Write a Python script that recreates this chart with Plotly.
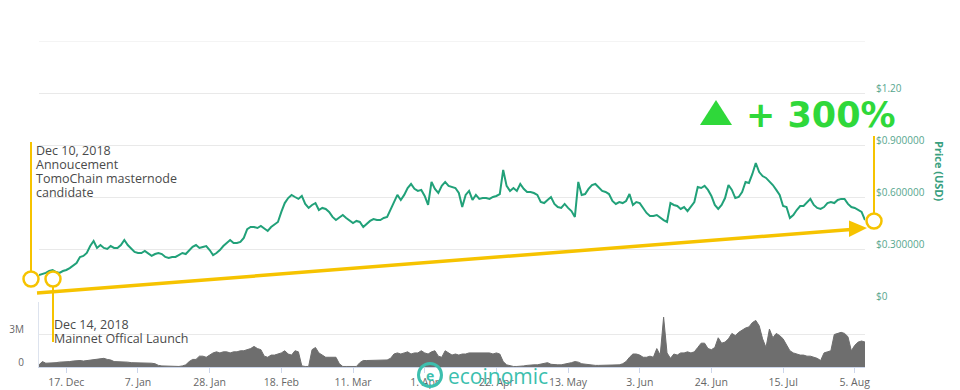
import plotly.graph_objects as go
import pandas as pd

# ---------------- data ----------------
start_date = "2018-12-09"

price_usd = [
    0.150, 0.156, 0.162, 0.173, 0.179, 0.167, 0.162, 0.173, 0.179, 0.190,
    0.202, 0.219, 0.254, 0.260, 0.277, 0.317, 0.346, 0.306, 0.323, 0.306,
    0.300, 0.317, 0.306, 0.306, 0.323, 0.352, 0.323, 0.300, 0.283, 0.277,
    0.277, 0.289, 0.277, 0.260, 0.271, 0.277, 0.271, 0.254, 0.248, 0.254,
    0.254, 0.265, 0.277, 0.271, 0.289, 0.312, 0.323, 0.306, 0.312, 0.317,
    0.294, 0.265, 0.277, 0.294, 0.317, 0.335, 0.352, 0.335, 0.335, 0.341,
    0.364, 0.415, 0.427, 0.427, 0.421, 0.433, 0.421, 0.404, 0.427, 0.439,
    0.456, 0.514, 0.565, 0.594, 0.612, 0.600, 0.589, 0.606, 0.560, 0.537,
    0.554, 0.565, 0.525, 0.537, 0.531, 0.514, 0.485, 0.467, 0.479, 0.496,
    0.479, 0.462, 0.450, 0.462, 0.456, 0.427, 0.444, 0.462, 0.473, 0.467,
    0.467, 0.479, 0.485, 0.525, 0.565, 0.612, 0.583, 0.612, 0.652, 0.675,
    0.647, 0.635, 0.641, 0.606, 0.554, 0.687, 0.647, 0.623, 0.664, 0.687,
    0.664, 0.658, 0.652, 0.623, 0.542, 0.612, 0.635, 0.583, 0.612, 0.589,
    0.594, 0.594, 0.589, 0.600, 0.606, 0.617, 0.756, 0.664, 0.635, 0.652,
    0.635, 0.675, 0.647, 0.629, 0.629, 0.623, 0.612, 0.571, 0.565, 0.583,
    0.600, 0.560, 0.542, 0.537, 0.560, 0.537, 0.519, 0.485, 0.687, 0.612,
    0.617, 0.647, 0.669, 0.675, 0.652, 0.635, 0.629, 0.617, 0.577, 0.560,
    0.571, 0.565, 0.577, 0.617, 0.554, 0.571, 0.565, 0.537, 0.508, 0.491,
    0.491, 0.496, 0.479, 0.467, 0.456, 0.565, 0.554, 0.548, 0.531, 0.542,
    0.519, 0.542, 0.571, 0.658, 0.652, 0.664, 0.641, 0.606, 0.554, 0.531,
    0.554, 0.594, 0.669, 0.641, 0.594, 0.600, 0.629, 0.687, 0.681, 0.733,
    0.796, 0.744, 0.721, 0.710, 0.692, 0.669, 0.641, 0.612, 0.548, 0.542,
    0.479, 0.496, 0.525, 0.548, 0.548, 0.571, 0.589, 0.554, 0.537, 0.531,
    0.542, 0.565, 0.571, 0.565, 0.583, 0.589, 0.589, 0.560, 0.542, 0.537,
    0.525, 0.514, 0.467,
]

volume_m = [
    0.20, 0.50, 0.35, 0.35, 0.40, 0.40, 0.45, 0.45, 0.50, 0.50,
    0.55, 0.60, 0.60, 0.55, 0.60, 0.65, 0.70, 0.75, 0.80, 0.80,
    0.70, 0.65, 0.50, 0.50, 0.50, 0.45, 0.45, 0.40, 0.40, 0.40,
    0.40, 0.40, 0.35, 0.35, 0.30, 0.15, 0.10, 0.08, 0.05, 0.05,
    0.05, 0.05, 0.10, 0.20, 0.50, 0.70, 0.70, 1.00, 1.00, 0.90,
    1.10, 1.30, 1.40, 1.30, 1.40, 1.40, 1.30, 1.40, 1.40, 1.50,
    1.50, 1.60, 1.70, 1.90, 1.70, 1.60, 1.00, 0.90, 1.10, 1.10,
    1.20, 1.30, 1.50, 1.20, 1.10, 1.50, 1.40, 0.10, 0.05, 0.05,
    1.60, 1.80, 1.30, 1.10, 0.90, 0.90, 0.90, 0.90, 0.30, 0.05,
    0.05, 0.05, 0.05, 0.05, 0.40, 0.60, 0.60, 0.60, 0.60, 0.60,
    0.60, 0.65, 0.65, 0.80, 1.20, 1.30, 1.20, 1.30, 1.40, 1.20,
    1.30, 1.30, 1.50, 1.30, 1.20, 1.40, 1.50, 1.00, 0.90, 1.50,
    1.30, 1.10, 1.20, 1.10, 1.20, 1.20, 1.30, 1.30, 1.30, 1.30,
    1.30, 1.30, 1.30, 1.20, 1.30, 1.20, 0.50, 0.20, 0.10, 0.05,
    0.05, 0.05, 0.10, 0.15, 0.20, 0.20, 0.20, 0.25, 0.30, 0.40,
    0.25, 0.20, 0.20, 0.20, 0.25, 0.30, 0.40, 0.50, 0.45, 0.30,
    0.25, 0.20, 0.20, 0.15, 0.15, 0.15, 0.15, 0.15, 0.15, 0.20,
    0.20, 0.30, 0.50, 0.90, 1.20, 1.20, 1.10, 0.90, 0.90, 1.00,
    0.90, 1.70, 1.10, 4.60, 1.30, 0.80, 1.20, 1.10, 1.30, 1.30,
    1.40, 1.30, 1.40, 1.80, 2.20, 2.20, 1.70, 1.60, 1.80, 2.70,
    2.20, 2.30, 2.60, 3.10, 2.90, 3.20, 3.40, 3.60, 3.70, 4.10,
    4.30, 3.80, 2.60, 1.80, 3.50, 2.70, 3.10, 2.90, 2.60, 2.00,
    1.50, 1.30, 1.20, 1.10, 1.10, 1.00, 1.00, 0.90, 0.80, 0.60,
    1.30, 1.40, 1.50, 3.00, 3.10, 3.20, 3.10, 2.80, 1.50, 2.00,
    2.30, 2.40, 2.30,
]

tick_dates = ["2018-12-17", "2019-01-07", "2019-01-28", "2019-02-18",
              "2019-03-11", "2019-04-01", "2019-04-22", "2019-05-13",
              "2019-06-03", "2019-06-24", "2019-07-15", "2019-08-05"]
tick_labels = ["17. Dec", "7. Jan", "28. Jan", "18. Feb", "11. Mar", "1. Apr",
               "22. Apr", "13. May", "3. Jun", "24. Jun", "15. Jul", "5. Aug"]

price_ticks = [0, 0.3, 0.6, 0.9, 1.2, 1.5]
price_tick_labels = ["$0", "$0.300000", "$0.600000", "$0.900000", "$1.20", ""]

volume_ticks_m = [0, 3, 6]
volume_tick_labels = ["0", "3M", ""]

dates = pd.date_range(start_date, periods=len(price_usd), freq="D")
volume = [v * 1e6 for v in volume_m]

# ---------------- styles ----------------
W, H = 960, 390
ML, MR, MT, MB = 39, 95, 41, 23
PW, PH = W - ML - MR, H - MT - MB
GOLD = "#f6c300"
TEAL_LABEL = "#56a68e"
GRID = "#e9e9e9"


def X(px):
    return (px - ML) / PW


def Y(py):
    return (H - MB - py) / PH


fig = go.Figure()

fig.add_trace(go.Scatter(
    x=dates, y=volume, mode="lines", fill="tozeroy",
    line=dict(color="#6e6e6e", width=1), fillcolor="#6e6e6e",
    xaxis="x", yaxis="y2", hoverinfo="skip"))

fig.add_trace(go.Scatter(
    x=dates, y=price_usd, mode="lines",
    line=dict(color="#21a179", width=2),
    xaxis="x2", yaxis="y"))

x_range = [dates[0], dates[-1]]

fig.update_layout(
    width=W, height=H,
    margin=dict(l=ML, r=MR, t=MT, b=MB, autoexpand=False),
    paper_bgcolor="white", plot_bgcolor="white",
    showlegend=False,
    xaxis=dict(
        anchor="y2", range=x_range, tickmode="array",
        tickvals=tick_dates, ticktext=tick_labels, automargin=False,
        ticks="outside", ticklen=5, tickcolor="#ccd6eb",
        showline=True, linecolor="#ccd6eb", linewidth=1,
        showgrid=False, zeroline=False,
        tickfont=dict(family="Open Sans", size=10.5, color="#666666"),
    ),
    xaxis2=dict(
        anchor="y", matches="x", range=x_range, automargin=False,
        showticklabels=False, showgrid=False, zeroline=False, showline=False,
    ),
    yaxis=dict(
        domain=[(H - MB - 301) / PH, 1],
        anchor="x2", side="right", range=[0, 1.5], automargin=False,
        tickmode="array", tickvals=price_ticks, ticktext=price_tick_labels,
        showgrid=True, gridcolor=GRID, gridwidth=1, zeroline=False,
        ticks="", ticklabelstandoff=10, ticklabelshift=-5,
        tickfont=dict(family="Open Sans", size=10, color=TEAL_LABEL),
    ),
    yaxis2=dict(
        domain=[0, (H - MB - 302) / PH],
        anchor="x", side="left", range=[0, 6e6], automargin=False,
        tickmode="array", tickvals=[v * 1e6 for v in volume_ticks_m],
        ticktext=volume_tick_labels,
        showgrid=True, gridcolor=GRID, gridwidth=1, zeroline=False,
        showline=True, linecolor="#dde3ee", linewidth=1,
        ticks="", ticklabelstandoff=12, ticklabelshift=-5,
        tickfont=dict(family="Open Sans", size=10, color="#666666"),
    ),
)

shapes = []


def circle(cx, cy, r, color, width):
    shapes.append(dict(type="circle", xref="paper", yref="paper",
                       x0=X(cx - r), x1=X(cx + r), y0=Y(cy + r), y1=Y(cy - r),
                       line=dict(color=color, width=width),
                       fillcolor="rgba(0,0,0,0)", layer="above"))


def seg(x0, y0, x1, y1, color, width):
    shapes.append(dict(type="line", xref="paper", yref="paper",
                       x0=X(x0), y0=Y(y0), x1=X(x1), y1=Y(y1),
                       line=dict(color=color, width=width), layer="above"))


def poly(pts, color):
    d = "M " + " L ".join(f"{X(a):.5f},{Y(b):.5f}" for a, b in pts) + " Z"
    shapes.append(dict(type="path", xref="paper", yref="paper", path=d,
                       fillcolor=color, line=dict(color=color, width=0),
                       layer="above"))


# top gridline of the price pane (1.5 level)
shapes.append(dict(type="line", xref="paper", yref="y", x0=0, x1=1,
                   y0=1.5, y1=1.5, line=dict(color=GRID, width=1),
                   layer="below"))

# annotation overlays
seg(31, 142, 31, 271.5, GOLD, 2)
circle(31, 279, 7.5, GOLD, 2.5)
circle(53, 279, 7.5, GOLD, 2.5)
seg(53, 286.5, 53, 342, GOLD, 2)
seg(37, 293, 851, 229.5, GOLD, 3.5)
poly([(867, 228), (849, 220.5), (849, 237)], GOLD)
circle(874, 221, 7.5, GOLD, 2.5)
seg(874, 136, 874, 213.5, GOLD, 2)
poly([(700, 125), (716, 100), (732, 125)], "#2fd83a")
circle(430, 375, 11.5, "#3cbfae", 3)

fig.update_layout(shapes=shapes)

annots = []


def text(px, py, s, size, color, xanchor="left", family="Open Sans", angle=0):
    annots.append(dict(x=X(px), y=Y(py), xref="paper", yref="paper", text=s,
                       showarrow=False, xanchor=xanchor, yanchor="middle",
                       textangle=angle,
                       font=dict(family=family, size=size, color=color)))


note_color = "#4a4a4a"
for i, line in enumerate(["Dec 10, 2018", "Annoucement",
                          "TomoChain masternode", "candidate"]):
    text(34, 150 + 14 * i, line, 12.5, note_color)
for i, line in enumerate(["Dec 14, 2018", "Mainnet Offical Launch"]):
    text(52, 324 + 14 * i, line, 12.5, note_color)

text(744, 115, "<b>+ 300%</b>", 35, "#2fd83a", family="DejaVu Sans")
text(940, 171, "<b>Price (USD)</b>", 11, "#3a9f80", xanchor="center", angle=90)
text(430, 375.5, "<b>e</b>", 14, "#3cbfae", xanchor="center")
text(446, 376, "ecoinomic", 21, "#3cbfae")

fig.update_layout(annotations=annots)

fig.write_html("out.html")
